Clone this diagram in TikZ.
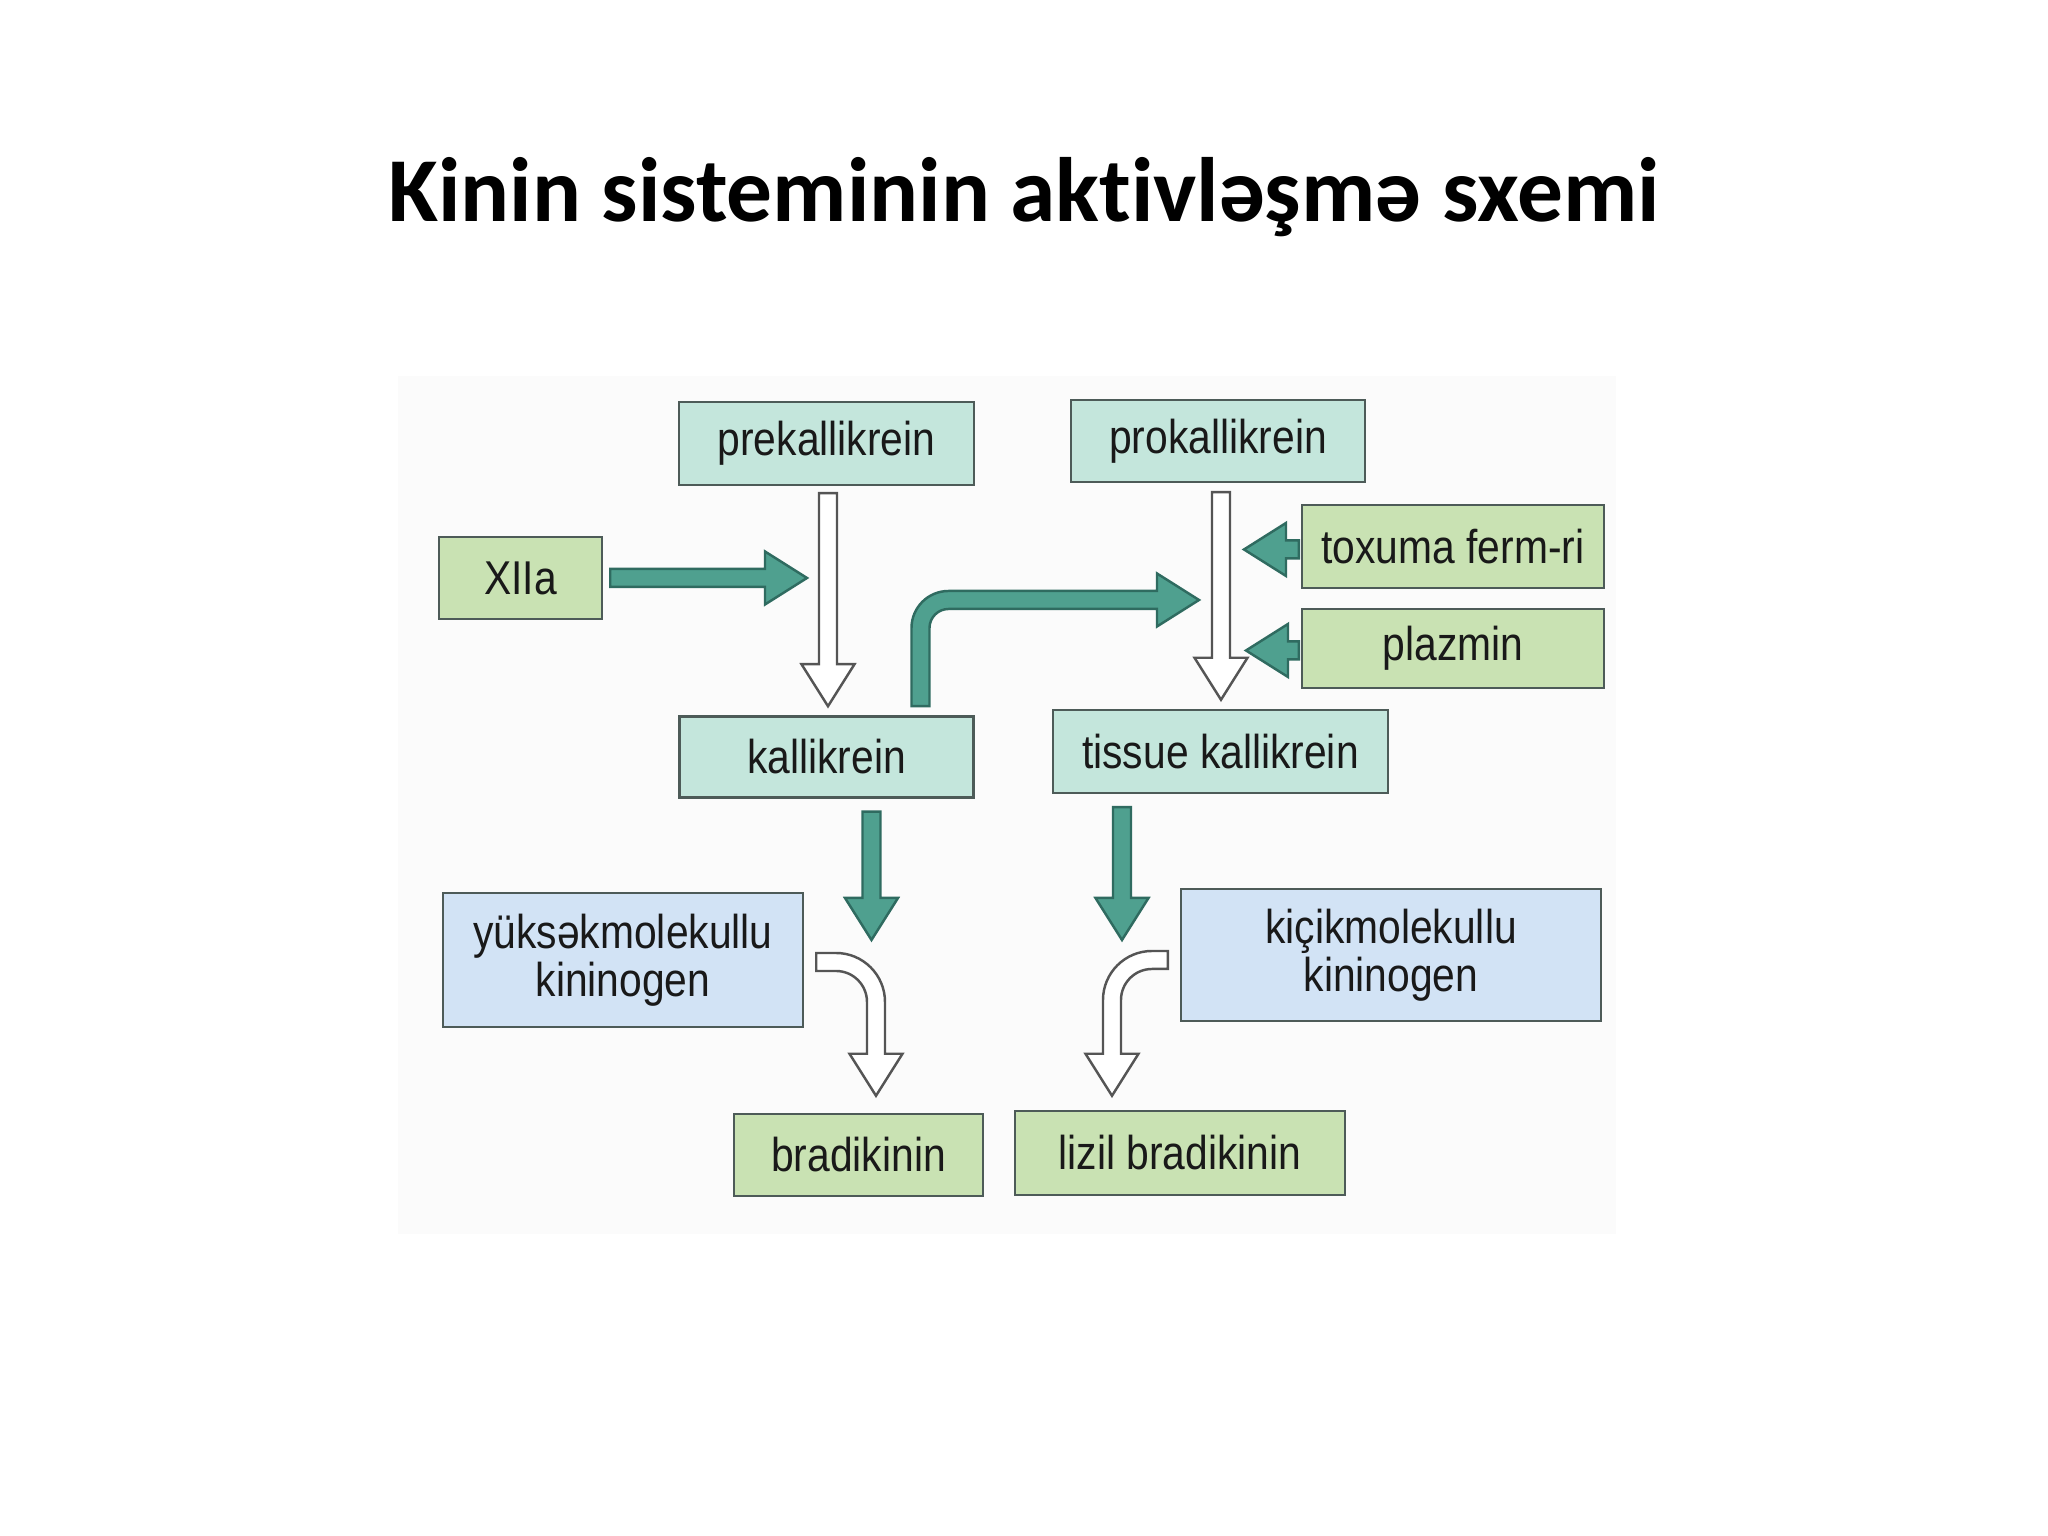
\documentclass[tikz,border=0pt]{standalone}
\usepackage{fontspec}
\setmainfont{Liberation Sans}
\newfontfamily\titlefont[Ligatures=NoCommon]{Carlito}
\newfontfamily\boxfont[FakeStretch=0.86]{Liberation Sans}
\usetikzlibrary{arrows.meta,calc,positioning}
\definecolor{tealfill}{HTML}{C4E6DC}
\definecolor{greenfill}{HTML}{C9E2B3}
\definecolor{bluefill}{HTML}{D2E3F5}
\definecolor{boxline}{HTML}{4D5B58}
\definecolor{tealarrow}{HTML}{4FA08F}
\definecolor{tealedge}{HTML}{2F6B60}
\definecolor{hollowedge}{HTML}{555555}
\definecolor{scanbg}{HTML}{FBFBFB}
% block arrow sizes
\def\kshaft{0.09cm}
\def\khead{0.265cm}
\def\klen{0.42cm}
\def\kbend{0.28cm}
% straight block arrows: style, start, tip
\newcommand{\blockdown}[3]{%
  \draw[#1] let \p1=#2, \p2=#3 in
    (\x1-\kshaft,\y1) -- (\x1-\kshaft,\y2+\klen) -- (\x1-\khead,\y2+\klen) -- (\x1,\y2)
    -- (\x1+\khead,\y2+\klen) -- (\x1+\kshaft,\y2+\klen) -- (\x1+\kshaft,\y1) -- cycle;}
\newcommand{\blockright}[3]{%
  \draw[#1] let \p1=#2, \p2=#3 in
    (\x1,\y1-\kshaft) -- (\x2-\klen,\y1-\kshaft) -- (\x2-\klen,\y1-\khead) -- (\x2,\y1)
    -- (\x2-\klen,\y1+\khead) -- (\x2-\klen,\y1+\kshaft) -- (\x1,\y1+\kshaft) -- cycle;}
\newcommand{\blockleft}[3]{%
  \draw[#1] let \p1=#2, \p2=#3 in
    (\x1,\y1-\kshaft) -- (\x2+\klen,\y1-\kshaft) -- (\x2+\klen,\y1-\khead) -- (\x2,\y1)
    -- (\x2+\klen,\y1+\khead) -- (\x2+\klen,\y1+\kshaft) -- (\x1,\y1+\kshaft) -- cycle;}

\begin{document}
\begin{tikzpicture}[x=1cm,y=1cm]
  \tikzstyle{kbox}=[draw=boxline,line width=0.7pt,inner sep=0pt,align=center,text=black!90,
    font=\boxfont\fontsize{13.5}{12.5}\selectfont]
  \tikzstyle{tealbox}=[kbox,fill=tealfill]
  \tikzstyle{greenbox}=[kbox,fill=greenfill]
  \tikzstyle{bluebox}=[kbox,fill=bluefill]
  \tikzstyle{hollowarrow}=[draw=hollowedge,fill=white,line width=0.7pt]
  \tikzstyle{fullarrow}=[draw=tealedge,fill=tealarrow,line width=0.7pt]
  \useasboundingbox (0,0) rectangle (20.48,15.36);
  \fill[scanbg] (3.98,3.02) rectangle (16.16,11.60);

  \node[anchor=base,font=\titlefont\bfseries\fontsize{26}{30}\selectfont] (title) at (10.24,13.14)
    {Kinin sisteminin aktivləşmə sxemi};

  % top row
  \node[tealbox,minimum width=2.95cm,minimum height=0.83cm] (pre) at (8.265,10.925) {prekallikrein};
  \node[tealbox,minimum width=2.94cm,minimum height=0.82cm] (pro) at (12.18,10.95) {prokallikrein};
  \node[greenbox,minimum width=1.63cm,minimum height=0.82cm] (xiia) at (5.205,9.58) {XIIa};
  \node[greenbox,minimum width=3.02cm,minimum height=0.83cm] (tox) at (14.53,9.895) {toxuma ferm-ri};
  \node[greenbox,minimum width=3.02cm,minimum height=0.79cm] (plaz) at (14.53,8.875) {plazmin};
  % kallikreins
  \node[tealbox,minimum width=2.94cm,minimum height=0.81cm,below=2.29cm of pre] (kal) {kallikrein};
  \node[tealbox,minimum width=3.35cm,minimum height=0.83cm] (tkal) at (12.205,7.845) {tissue kallikrein};
  % kininogens and kinins
  \node[bluebox,minimum width=3.60cm,minimum height=1.34cm] (hmk) at (6.23,5.76) {yüksəkmolekullu\\kininogen};
  \node[bluebox,minimum width=4.20cm,minimum height=1.32cm] (lmk) at (13.91,5.81) {kiçikmolekullu\\kininogen};
  \node[greenbox,minimum width=2.49cm,minimum height=0.82cm] (brad) at (8.585,3.81) {bradikinin};
  \node[greenbox,minimum width=3.30cm,minimum height=0.84cm] (lbrad) at (11.80,3.83) {lizil bradikinin};

  \coordinate (xtip) at (8.07,9.56);
  \coordinate (ltip) at (11.99,9.36);
  \coordinate (ttip) at (12.44,9.87);
  \coordinate (ptip) at (12.46,8.85);
  \coordinate (ktip) at (8.72,5.96);
  \coordinate (tktip) at (11.22,5.96);

  % open arrows
  \blockdown{hollowarrow}{($(pre.south)+(0.015,-0.07)$)}{($(kal.north)+(0.015,0.09)$)}
  \blockdown{hollowarrow}{($(pro.south)+(0.03,-0.09)$)}{($(tkal.north)+(0.005,0.09)$)}
  % activators
  \blockright{fullarrow}{($(xiia.east)+(0.07,0)$)}{(xtip)}
  \blockleft{fullarrow}{($(tox.west)+(-0.02,-0.03)$)}{(ttip)}
  \blockleft{fullarrow}{($(plaz.west)+(-0.02,-0.02)$)}{(ptip)}
  \draw[fullarrow] let \p1=($(kal.north)+(0.94,0.09)$), \p2=(ltip) in
    (\x1-\kshaft,\y1) -- (\x1-\kshaft,\y2-\kbend) arc[start angle=180,end angle=90,radius=\kbend+\kshaft]
    -- (\x2-\klen,\y2+\kshaft) -- (\x2-\klen,\y2+\khead) -- (\x2,\y2) -- (\x2-\klen,\y2-\khead)
    -- (\x2-\klen,\y2-\kshaft) -- (\x1+\kbend,\y2-\kshaft) arc[start angle=90,end angle=180,radius=\kbend-\kshaft]
    -- (\x1+\kshaft,\y1) -- cycle;
  \blockdown{fullarrow}{($(kal.south)+(0.45,-0.13)$)}{(ktip)}
  \blockdown{fullarrow}{($(tkal.south)+(-0.985,-0.13)$)}{(tktip)}

  % kininogen cleavage
  \draw[hollowarrow] let \p1=($(hmk.east)+(0.12,-0.02)$), \p2=($(brad.north)+(0.175,0.17)$) in
    (\x1,\y1+\kshaft) -- (\x2-0.4cm,\y1+\kshaft) arc[start angle=90,end angle=0,radius=0.4cm+\kshaft]
    -- (\x2+\kshaft,\y2+\klen) -- (\x2+\khead,\y2+\klen) -- (\x2,\y2) -- (\x2-\khead,\y2+\klen)
    -- (\x2-\kshaft,\y2+\klen) -- (\x2-\kshaft,\y1-0.4cm) arc[start angle=0,end angle=90,radius=0.4cm-\kshaft]
    -- (\x1,\y1-\kshaft) -- cycle;
  \draw[hollowarrow] let \p1=($(lmk.west)+(-0.12,-0.05)$), \p2=($(lbrad.north)+(-0.68,0.14)$) in
    (\x1,\y1+\kshaft) -- (\x2+0.4cm,\y1+\kshaft) arc[start angle=90,end angle=180,radius=0.4cm+\kshaft]
    -- (\x2-\kshaft,\y2+\klen) -- (\x2-\khead,\y2+\klen) -- (\x2,\y2) -- (\x2+\khead,\y2+\klen)
    -- (\x2+\kshaft,\y2+\klen) -- (\x2+\kshaft,\y1-0.4cm) arc[start angle=180,end angle=90,radius=0.4cm-\kshaft]
    -- (\x1,\y1-\kshaft) -- cycle;
\end{tikzpicture}
\end{document}
